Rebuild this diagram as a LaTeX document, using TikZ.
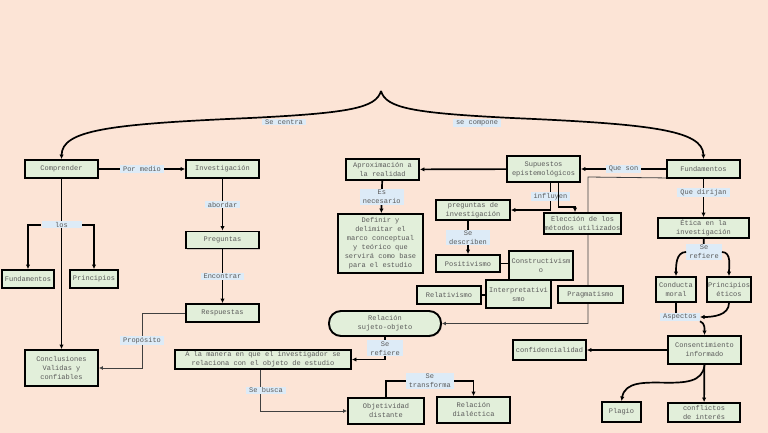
\documentclass[tikz,border=0pt]{standalone}
\usepackage{fontspec}
\setmonofont{Liberation Mono}
\usepackage{xcolor}
\usetikzlibrary{arrows.meta,shadows}

\definecolor{bgpeach}{HTML}{FCE4D6}
\definecolor{boxgreen}{HTML}{E2EFDA}
\definecolor{lblblue}{HTML}{DDEBF7}
\definecolor{txtgray}{HTML}{5A5A5A}

\pgfdeclarelayer{paper}
\pgfdeclarelayer{behind}
\pgfsetlayers{paper,behind,main}

\begin{document}
\begin{tikzpicture}[x=1pt,y=-1pt,
    box/.style={draw=black, line width=1.9pt, fill=boxgreen, text=txtgray,
        font=\ttfamily\fontsize{7}{9}\selectfont, align=center, inner sep=1pt,
        drop shadow={shadow xshift=1pt, shadow yshift=-1pt, opacity=0.35}},
    lbl/.style={fill=lblblue, text=txtgray, font=\ttfamily\fontsize{7}{9}\selectfont,
        align=center, inner xsep=3pt, inner ysep=1pt},
    link/.style={line width=1.7pt},
    arr/.style={link, -{Latex[length=4.5pt,width=4.5pt]}},
    thinlink/.style={line width=0.8pt, draw=black!75},
    thinarr/.style={thinlink, -{Latex[length=4pt,width=4pt]}}]

    \begin{pgfonlayer}{paper}
        \path[use as bounding box, fill=bgpeach] (0,0) rectangle (768,433);
    \end{pgfonlayer}

    % Left branch
    \node[box, minimum width=73pt, minimum height=18pt] (comp) at (61.5,169) {Comprender};
    \node[box, minimum width=73pt, minimum height=18pt] (inv) at (222.5,169) {Investigación};
    \node[box, minimum width=73pt, minimum height=17pt] (preg) at (222.5,240) {Preguntas};
    \node[box, minimum width=73pt, minimum height=18pt] (resp) at (222.5,313) {Respuestas};
    \node[box, minimum width=52pt, minimum height=18pt] (fundL) at (28,279) {Fundamentos};
    \node[box, minimum width=48pt, minimum height=18pt] (princ) at (94,279) {Principios};
    \node[box, minimum width=73pt, minimum height=36pt] (conc) at (61.5,368) {Conclusiones\\Validas y\\confiables};

    % Middle
    \node[box, minimum width=73pt, minimum height=21pt] (aprox) at (382.5,169.5) {Aproximación a\\la realidad};
    \node[box, minimum width=85pt, minimum height=59pt] (def) at (380.5,243.5) {Definir y\\delimitar el\\marco conceptual\\y teórico que\\servirá como base\\para el estudio};
    \node[box, minimum width=73pt, minimum height=26pt] (sup) at (543.5,169) {Supuestos\\epistemológicos};
    \node[box, minimum width=74pt, minimum height=20pt] (pregI) at (473,210) {preguntas de\\investigación};
    \node[box, minimum width=77pt, minimum height=21pt] (elec) at (582.5,223.5) {Elección de los\\métodos utilizados};
    \node[box, minimum width=64pt, minimum height=17pt] (pos) at (468,263.5) {Positivismo};
    \node[box, minimum width=64pt, minimum height=29pt] (cons) at (541,265.5) {Constructivism\\o};
    \node[box, minimum width=64pt, minimum height=18pt] (rel) at (449,295) {Relativismo};
    \node[box, minimum width=65pt, minimum height=28pt] (interp) at (518.5,294) {Interpretativi\\smo};
    \node[box, minimum width=65pt, minimum height=17pt] (prag) at (590.5,294.5) {Pragmatismo};
    \node[box, rounded corners=12pt, minimum width=112pt, minimum height=25pt] (rso) at (385,323.5) {Relación\\sujeto-objeto};
    \node[box, minimum width=176pt, minimum height=19pt] (manera) at (263,359.5) {A la manera en que el investigador se\\relaciona con el objeto de estudio};
    \node[box, minimum width=76pt, minimum height=26pt] (obj) at (386,411) {Objetividad\\distante};
    \node[box, minimum width=73pt, minimum height=26pt] (reldial) at (473.5,410) {Relación\\dialéctica};

    % Right branch
    \node[box, minimum width=73pt, minimum height=18pt] (fundR) at (703.5,169) {Fundamentos};
    \node[box, minimum width=91pt, minimum height=20pt] (etica) at (703.5,228) {Ética en la\\investigación};
    \node[box, minimum width=40pt, minimum height=25pt] (conducta) at (676,289.5) {Conducta\\moral};
    \node[box, minimum width=44pt, minimum height=25pt] (princE) at (729,289.5) {Principios\\éticos};
    \node[box, minimum width=73pt, minimum height=28pt] (consent) at (704.5,350) {Consentimiento\\informado};
    \node[box, minimum width=73pt, minimum height=20pt] (confid) at (549.5,350) {confidencialidad};
    \node[box, minimum width=39pt, minimum height=20pt] (plagio) at (621.5,412) {Plagio};
    \node[box, minimum width=72pt, minimum height=19pt] (conflic) at (704,412.5) {conflictos\\de interés};

    % Top brace
    \coordinate (apex) at (381,91);
    \draw[arr] (apex) .. controls (376,108) and (350,113) .. (250,118)
        .. controls (110,124) and (62,130) .. (comp.north);
    \draw[arr] (apex) .. controls (386,108) and (412,113) .. (512,118)
        .. controls (650,124) and (703,130) .. (fundR.north);
    \node[lbl] (secentra) at (284,122) {Se centra};
    \node[lbl] (secompone) at (477,123) {se compone};

    % Left connectors
    \draw[arr] (comp) -- node[lbl] (pormedio) {Por medio} (inv);
    \draw[arr] (inv) -- node[lbl] (abordar) {abordar} (preg);
    \draw[arr] (preg) -- node[lbl] (encontrar) {Encontrar} (resp);
    \draw[arr] (comp) -- node[lbl, pos=0.27, minimum width=40pt] (los) {los} (conc);
    \draw[arr] (los) -| (fundL);
    \draw[arr] (los) -| (princ);
    \draw[thinarr] (resp.west) -- ++(-43,0) |- node[lbl, pos=0.25] (proposito) {Propósito} (conc);

    % Middle connectors
    \draw[arr] (sup) -- (aprox);
    \draw[arr] (aprox) -- node[lbl] (esnec) {Es\\necesario} (def);
    \draw[arr] ([xshift=7pt]sup.south) |- node[lbl, pos=0.25] (influyen) {influyen} (pregI);
    \coordinate (elecin) at (575,207);
    \draw[arr] ([xshift=15pt]sup.south) |- (elecin) -- (elecin |- elec.north);
    \draw[arr] ([xshift=-5pt]pregI.south) -- node[lbl] (sedesc) {Se\\describen} (pos);
    \draw[link] (pos.east) -- (pos.east -| cons.west);
    \draw[link] (rel.east) -- (rel.east -| interp.west);
    \coordinate (fbend) at (588,177);
    \begin{pgfonlayer}{behind}
        \draw[thinarr] ([yshift=1pt]fundR.south west) -- (fbend) |- (rso);
    \end{pgfonlayer}
    \draw[arr] (rso) |- node[lbl, pos=0.25] (serefA) {Se\\refiere} (manera);
    \draw[thinarr] ([xshift=-3pt]manera.south) |- node[lbl, pos=0.25, xshift=6pt] (sebusca) {Se busca} (obj);
    \draw[arr] (obj.north) -- ++(0,-16) -| node[lbl, pos=0.25] (setrans) {Se\\transforma} (reldial);

    % Right connectors
    \draw[arr] (fundR) -- node[lbl] (queson) {Que son} (sup);
    \draw[arr] (fundR) -- node[lbl, pos=0.35] (quedir) {Que dirijan} (etica);
    \node[lbl] (serefB) at (704,252) {Se\\refiere};
    \draw[link] (etica) -- (serefB);
    \draw[arr] (serefB.west) to[out=180,in=90] (conducta.north);
    \draw[arr] (serefB.east) to[out=0,in=90] (princE.north);
    \node[lbl] (aspectos) at (680,317) {Aspectos};
    \draw[link] (conducta.south) -- (conducta.south |- aspectos.north);
    \draw[arr] (princE.south) to[out=-90,in=0] (aspectos.east);
    \draw[arr] (aspectos.south east) to[out=-20,in=90] (consent.north);
    \draw[arr] (consent) -- (confid);
    \draw[arr] (consent.south) to[out=-95,in=80] (plagio.north);
    \draw[arr] (consent) -- (conflic);
\end{tikzpicture}
\end{document}
